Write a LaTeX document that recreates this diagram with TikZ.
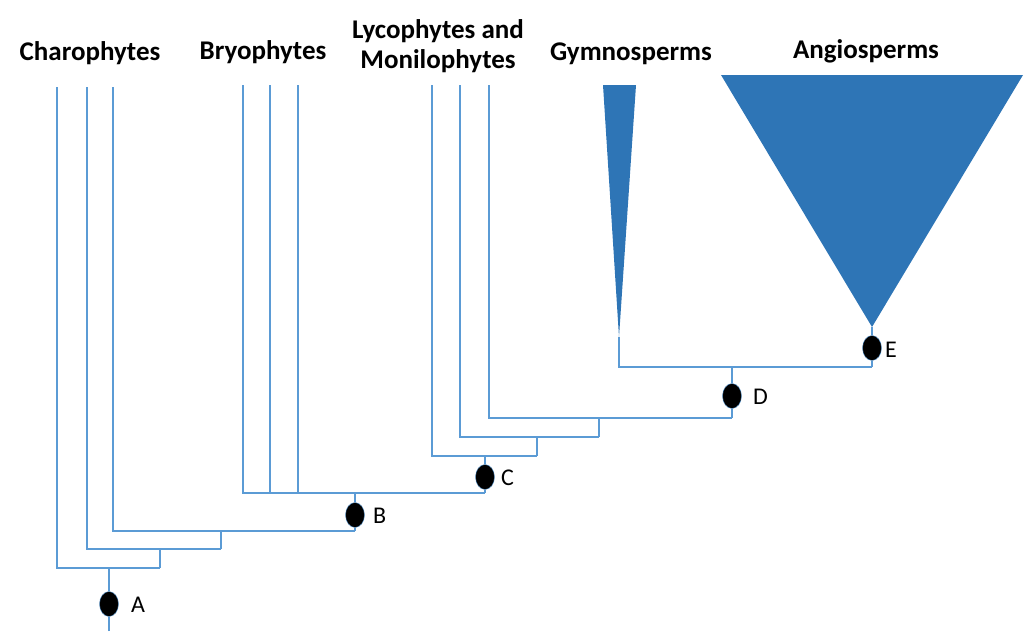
\documentclass[tikz,border=0pt]{standalone}
\usepackage{fontspec}
\setmainfont{Carlito}
\usetikzlibrary{shapes.geometric}
\definecolor{branch}{RGB}{91,155,213}
\definecolor{clade}{RGB}{46,117,182}
\tikzset{
  br/.style={draw=branch, line width=1.4pt},
  dot/.style={ellipse, fill=black, draw=branch, line width=0.4pt, minimum width=19pt, minimum height=25pt, inner sep=0pt},
  lab/.style={font=\fontsize{24}{26}\selectfont, anchor=base west, inner sep=0pt},
  grp/.style={font=\bfseries\fontsize{27}{30}\selectfont, align=center, inner sep=0pt, anchor=base}
}
\begin{document}
\begin{tikzpicture}[x=1pt,y=-1pt]
\useasboundingbox (0,0) rectangle (1024,637);
% group labels
\node[grp] (tch) at (90,60) {Charophytes};
\node[grp] (tbr) at (263,59) {Bryophytes};
\node[grp] (tly) at (438,38) {Lycophytes and};
\node[grp] (tmo) at (438,68) {Monilophytes};
\node[grp] (tgy) at (631,60) {Gymnosperms};
\node[grp] (tan) at (866,58) {Angiosperms};
% leaf tips
\coordinate (c1) at (57,87); \coordinate (c2) at (87,87); \coordinate (c3) at (113,87);
\coordinate (b1) at (243,85); \coordinate (b2) at (270,85); \coordinate (b3) at (298,85);
\coordinate (l1) at (432,85); \coordinate (l2) at (460,85); \coordinate (l3) at (489,85);
% clade triangles
\coordinate (gtip) at (619,337);
\coordinate (atip) at (872,327);
\fill[clade] (603,85) -- (636,85) -- (gtip) -- cycle;
\fill[clade] (721,75) -- (1023,75) -- (atip) -- cycle;
% internal joints
\coordinate (root) at (109,631);
\coordinate (k1) at (109,568);
\coordinate (j1) at (160,568);
\coordinate (j2) at (221,549);
\coordinate (kb) at (355,531);
\coordinate (jb) at (355,493);
\coordinate (kc) at (485,493);
\coordinate (jc) at (485,456);
\coordinate (j3) at (537,456);
\coordinate (j4) at (599,437);
\coordinate (kd) at (732,418);
\coordinate (jd) at (732,367);
\coordinate (ke) at (872,367);
% support nodes
\node[dot] (A) at (109,604) {};
\node[dot] (B) at (355,515) {};
\node[dot] (C) at (485,477) {};
\node[dot] (D) at (732,396) {};
\node[dot] (E) at (872,348) {};
\node[lab] (lA) at (131,612) {A};
\node[lab] (lB) at (373,523) {B};
\node[lab] (lC) at (501,485) {C};
\node[lab] (lD) at (753,404) {D};
\node[lab] (lE) at (885,357) {E};
% branches
\draw[br] (root) -- (A.south);
\draw[br] (A.north) -- (k1);
\draw[br] (c1) |- (j1);
\draw[br] (j1) -- (j1 |- j2);
\draw[br] (c2) |- (j2);
\draw[br] (j2) -- (j2 |- kb);
\draw[br] (c3) |- (kb);
\draw[br] (kb) -- (B.south);
\draw[br] (B.north) -- (jb);
\draw[br] (b1) |- (kc);
\draw[br] (b2) -- (b2 |- jb);
\draw[br] (b3) -- (b3 |- jb);
\draw[br] (kc) -- (C.south);
\draw[br] (C.north) -- (jc);
\draw[br] (l1) |- (j3);
\draw[br] (j3) -- (j3 |- j4);
\draw[br] (l2) |- (j4);
\draw[br] (j4) -- (j4 |- kd);
\draw[br] (l3) |- (kd);
\draw[br] (kd) -- (D.south);
\draw[br] (D.north) -- (jd);
\draw[br] (gtip) |- (ke);
\draw[br] (ke) -- (E.south);
\draw[br] (E.north) -- (atip);
\end{tikzpicture}
\end{document}
